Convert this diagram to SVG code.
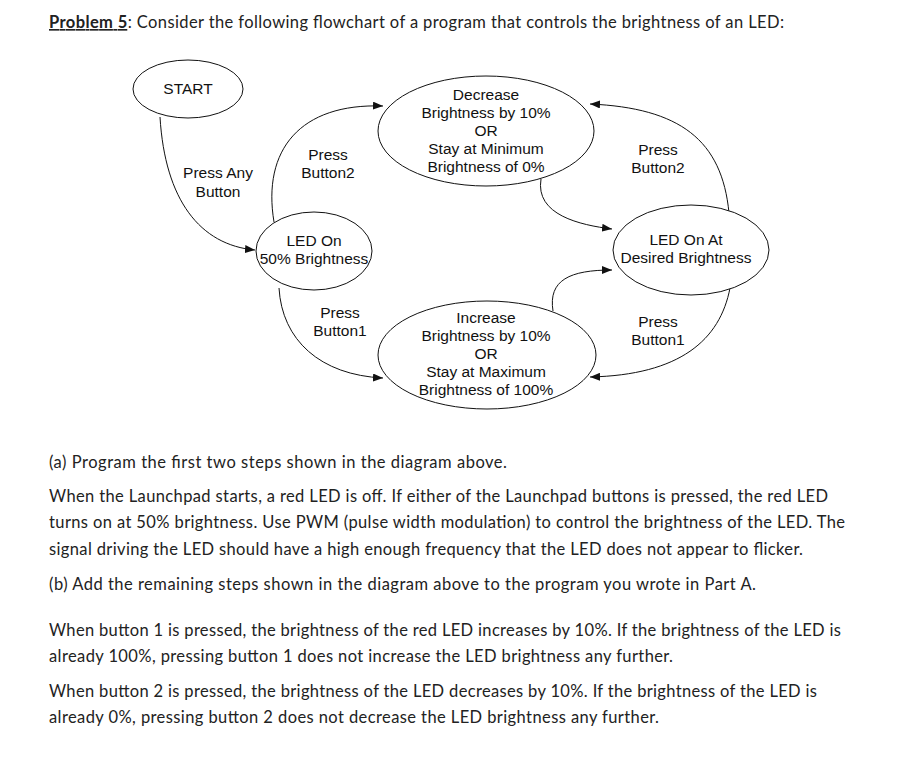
<svg xmlns="http://www.w3.org/2000/svg" width="900" height="762" viewBox="0 0 900 762">
<defs>
<marker id="ah" markerWidth="10" markerHeight="8" refX="10" refY="4" orient="auto" markerUnits="userSpaceOnUse"><path d="M0,0 L10,4 L0,8 Z" fill="#111"/></marker>
<style>
.n{fill:#fff;stroke:#111;stroke-width:1}
.t{font-family:"Liberation Sans",Arial,sans-serif;font-size:15.5px;fill:#111;text-anchor:middle}
.c{fill:none;stroke:#111;stroke-width:1;marker-end:url(#ah)}
.p{font-family:Lato,"Open Sans",sans-serif;font-size:16.5px;fill:#222}
</style>
</defs>
<rect width="900" height="762" fill="#fff"/>
<text class="p" x="49" y="28" textLength="735" lengthAdjust="spacing"><tspan font-weight="bold" text-decoration="underline">Problem 5</tspan>: Consider the following flowchart of a program that controls the brightness of an LED:</text>
<g id="connectors">
<path class="c" d="M160,117 C165,200 200,245 255,250"/>
<path class="c" d="M274,222 C262,150 300,103 383,106"/>
<path class="c" d="M541,179 C535,215 580,225 612,229"/>
<path class="c" d="M729,213 C722,140 680,108 590,104"/>
<path class="c" d="M279,288 C282,340 320,375 383,378"/>
<path class="c" d="M553,311 C548,280 570,270 612,270"/>
<path class="c" d="M730,288 C720,340 680,375 590,377"/>
<text class="t" x="218" y="178">Press Any</text><text class="t" x="218" y="197">Button</text>
<text class="t" x="328" y="160">Press</text><text class="t" x="328" y="178">Button2</text>
<text class="t" x="658" y="155">Press</text><text class="t" x="658" y="173">Button2</text>
<text class="t" x="340" y="318">Press</text><text class="t" x="340" y="336">Button1</text>
<text class="t" x="658" y="327">Press</text><text class="t" x="658" y="345">Button1</text>
</g>
<g id="start"><ellipse class="n" cx="188" cy="89" rx="55" ry="29"/><text class="t" x="188" y="94">START</text></g>
<g id="decrease"><ellipse class="n" cx="486" cy="131" rx="108" ry="55"/>
<text class="t" x="486" y="100">Decrease</text><text class="t" x="486" y="118">Brightness by 10%</text><text class="t" x="486" y="136">OR</text><text class="t" x="486" y="154">Stay at Minimum</text><text class="t" x="486" y="172">Brightness of 0%</text></g>
<g id="ledon"><ellipse class="n" cx="314" cy="251" rx="58" ry="39"/><text class="t" x="314" y="246">LED On</text><text class="t" x="314" y="264">50% Brightness</text></g>
<g id="desired"><ellipse class="n" cx="691" cy="250" rx="78" ry="45"/><text class="t" x="686" y="245">LED On At</text><text class="t" x="686" y="263">Desired Brightness</text></g>
<g id="increase"><ellipse class="n" cx="487" cy="355" rx="109" ry="54"/>
<text class="t" x="486" y="323">Increase</text><text class="t" x="486" y="341">Brightness by 10%</text><text class="t" x="486" y="359">OR</text><text class="t" x="486" y="377">Stay at Maximum</text><text class="t" x="486" y="395">Brightness of 100%</text></g>
<g id="body">
<text class="p" x="49" y="468" textLength="458" lengthAdjust="spacing">(a) Program the first two steps shown in the diagram above.</text>
<text class="p" x="49" y="502" textLength="779" lengthAdjust="spacing">When the Launchpad starts, a red LED is off. If either of the Launchpad buttons is pressed, the red LED</text>
<text class="p" x="49" y="528" textLength="796" lengthAdjust="spacing">turns on at 50% brightness. Use PWM (pulse width modulation) to control the brightness of the LED. The</text>
<text class="p" x="49" y="555" textLength="754" lengthAdjust="spacing">signal driving the LED should have a high enough frequency that the LED does not appear to flicker.</text>
<text class="p" x="49" y="590" textLength="707" lengthAdjust="spacing">(b) Add the remaining steps shown in the diagram above to the program you wrote in Part A.</text>
<text class="p" x="49" y="636" textLength="792" lengthAdjust="spacing">When button 1 is pressed, the brightness of the red LED increases by 10%. If the brightness of the LED is</text>
<text class="p" x="49" y="662" textLength="624" lengthAdjust="spacing">already 100%, pressing button 1 does not increase the LED brightness any further.</text>
<text class="p" x="49" y="697" textLength="768" lengthAdjust="spacing">When button 2 is pressed, the brightness of the LED decreases by 10%. If the brightness of the LED is</text>
<text class="p" x="49" y="723" textLength="610" lengthAdjust="spacing">already 0%, pressing button 2 does not decrease the LED brightness any further.</text>
</g>
</svg>
